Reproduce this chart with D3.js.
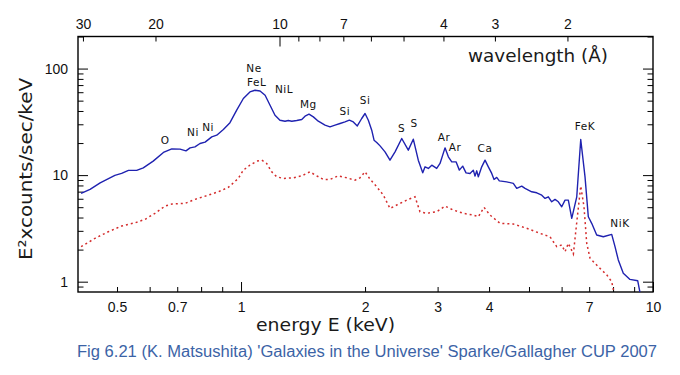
<!DOCTYPE html>
<html><head><meta charset="utf-8">
<script src="https://cdn.jsdelivr.net/npm/d3@7"></script>
<style>body{margin:0;background:#fff}svg{display:block}</style>
</head><body><svg id="c" width="680" height="375"></svg>
<script>
// ---- data (energy keV, E^2 x counts/sec/keV) ----
const blueE = [0.409,0.430,0.455,0.494,0.513,0.533,0.558,0.579,0.612,0.648,0.679,0.711,0.735,0.752,0.773,0.795,0.818,0.849,0.873,0.906,0.940,0.976,1.013,1.051,1.081,1.112,1.144,1.176,1.209,1.243,1.279,1.302,1.328,1.365,1.404,1.430,1.462,1.498,1.540,1.599,1.644,1.691,1.739,1.788,1.832,1.873,1.915,1.963,2.000,2.037,2.076,2.103,2.135,2.175,2.236,2.299,2.365,2.455,2.547,2.619,2.693,2.761,2.797,2.849,2.904,2.985,3.041,3.127,3.186,3.247,3.326,3.388,3.452,3.517,3.596,3.663,3.698,3.734,3.767,3.839,3.911,3.984,4.060,4.113,4.175,4.236,4.415,4.581,4.669,4.801,4.891,5.077,5.221,5.370,5.470,5.571,5.677,5.783,5.891,6.004,6.116,6.230,6.350,6.530,6.677,6.839,6.966,7.099,7.300,7.575,7.939,8.087,8.237,8.470,8.793,9.182,9.299];
const blueV = [6.74,7.35,8.47,9.94,10.37,11.07,11.07,11.71,13.53,16.32,17.64,17.53,16.89,18.03,18.42,19.82,20.39,22.86,23.71,26.81,31.05,40.67,52.35,60.36,62.6,61.66,56.2,45.3,36.5,32.77,32.07,32.56,32.07,32.56,33.27,35.73,37.3,35.2,32.07,29.42,28.36,29.42,30.52,31.59,32.77,31.59,28.97,34.0,37.87,32.77,26.41,21.28,20.26,18.82,16.54,13.82,16.54,22.08,17.15,21.75,13.82,10.51,11.96,11.56,12.41,11.56,12.88,18.03,14.84,13.32,13.32,11.14,12.14,10.51,10.37,11.14,9.79,10.97,9.64,11.96,13.82,11.96,10.37,9.11,9.52,8.84,8.65,8.36,7.51,7.89,7.51,6.98,6.83,6.49,6.05,6.26,5.62,5.92,5.62,5.05,5.83,5.83,3.93,6.26,21.61,9.64,4.07,3.53,2.74,2.64,2.78,2.13,1.60,1.20,1.05,1.02,0.79];
const redE = [0.409,0.442,0.476,0.513,0.553,0.585,0.618,0.654,0.679,0.731,0.773,0.833,0.881,0.931,0.985,1.013,1.051,1.092,1.123,1.154,1.187,1.221,1.266,1.339,1.404,1.470,1.526,1.584,1.644,1.723,1.805,1.891,1.944,2.000,2.056,2.135,2.215,2.299,2.387,2.477,2.547,2.644,2.719,2.823,2.985,3.127,3.276,3.464,3.663,3.767,3.890,4.021,4.253,4.581,4.937,5.318,5.623,5.839,6.004,6.116,6.230,6.408,6.552,6.677,6.800,6.904,7.033,7.366,7.720,7.939,8.040];
const redV = [2.13,2.55,2.94,3.33,3.57,3.85,4.38,5.12,5.35,5.43,5.92,6.49,6.98,7.67,9.31,11.14,12.41,13.53,13.82,12.88,10.74,9.64,9.31,9.43,9.85,10.74,9.85,9.11,9.11,9.85,9.43,8.98,9.43,10.74,9.17,7.77,6.49,4.87,5.24,5.62,5.92,6.26,4.53,4.38,4.53,5.12,4.70,4.38,4.22,4.07,4.98,4.22,3.53,3.47,3.17,2.84,2.64,2.13,2.21,1.91,2.29,1.82,4.07,7.89,5.05,2.29,1.66,1.38,1.16,1.00,0.79];

const energyLabels = [0.5,0.7,1,2,3,4,7,10];
const energyMinor = [0.5,0.6,0.7,0.8,0.9,2,3,4,5,6,7,8,9];
const energyMajor = [1,10];
const waveLabels = [30,20,10,7,4,3,2];
const waveMinor = [30,20,9,8,7,6,5,4,3,2];
const waveMajor = [10];
const yLabels = [1,10,100];
const yMinor = [0.9,2,3,4,5,6,7,8,9,20,30,40,50,60,70,80,90,200];
const yMajor = [1,10,100];

const lineNames = ["O","Ni","Ni","Ne","FeL","NiL","Mg","Si","Si","S","S","Ar","Ar","Ca","FeK","NiK"];
const lineNameE = [0.654,0.765,0.832,1.075,1.092,1.272,1.457,1.788,2.0,2.455,2.630,3.11,3.307,3.911,6.839,8.316];
const lineNameV = [19.5,23.2,26.0,92.9,68.7,59.6,42.2,36.5,47.0,25.3,28.0,20.96,16.9,16.54,26.4,3.28];

// ---- layout ----
const L = 78, R = 653, T = 36.5, B = 292;
const hc = 12.3984;
const svg = d3.select("#c");
const x = d3.scaleLog().domain([0.402, 10]).range([L, R]);
const w = d3.scaleLog().domain([hc/0.402, hc/10]).range([L, R]);
const y = d3.scaleLog().domain([0.8, 200]).range([B, T]);

svg.append("defs").append("clipPath").attr("id","clip")
  .append("rect").attr("x",L).attr("y",T).attr("width",R-L).attr("height",B-T);

const tickFont = "'Liberation Sans', Arial, sans-serif";
function styleAxis(g){ g.select(".domain").remove(); g.selectAll("line").attr("stroke","#000").attr("stroke-width",1); g.selectAll("text").attr("font-family",tickFont).attr("font-size",14).attr("fill","#111"); }

// bottom
svg.append("g").attr("transform",`translate(0,${B})`).call(d3.axisBottom(x).tickValues(energyMinor).tickSize(-5).tickFormat("")).call(styleAxis);
svg.append("g").attr("transform",`translate(0,${B})`).call(d3.axisBottom(x).tickValues(energyMajor).tickSize(-10).tickFormat("")).call(styleAxis);
svg.append("g").attr("transform",`translate(0,${B})`).call(d3.axisBottom(x).tickValues(energyLabels).tickSize(0).tickPadding(10.5).tickFormat(d=>String(d))).call(styleAxis);
// top
svg.append("g").attr("transform",`translate(0,${T})`).call(d3.axisTop(w).tickValues(waveMinor).tickSize(-5).tickFormat("")).call(styleAxis);
svg.append("g").attr("transform",`translate(0,${T})`).call(d3.axisTop(w).tickValues(waveMajor).tickSize(-10).tickFormat("")).call(styleAxis);
svg.append("g").attr("transform",`translate(0,${T})`).call(d3.axisTop(w).tickValues(waveLabels).tickSize(0).tickPadding(7.5).tickFormat(d=>String(d))).call(styleAxis);
// left
svg.append("g").attr("transform",`translate(${L},0)`).call(d3.axisLeft(y).tickValues(yMinor).tickSize(-5.5).tickFormat("")).call(styleAxis);
svg.append("g").attr("transform",`translate(${L},0)`).call(d3.axisLeft(y).tickValues(yMajor).tickSize(-10).tickFormat("")).call(styleAxis);
svg.append("g").attr("transform",`translate(${L},0)`).call(d3.axisLeft(y).tickValues(yLabels).tickSize(0).tickPadding(10).tickFormat(d=>String(d))).call(styleAxis);
// right
svg.append("g").attr("transform",`translate(${R},0)`).call(d3.axisRight(y).tickValues(yMinor).tickSize(-5.5).tickFormat("")).call(styleAxis);
svg.append("g").attr("transform",`translate(${R},0)`).call(d3.axisRight(y).tickValues(yMajor).tickSize(-10).tickFormat("")).call(styleAxis);

// frame
svg.append("rect").attr("x",L).attr("y",T).attr("width",R-L).attr("height",B-T)
  .attr("fill","none").attr("stroke","#000").attr("stroke-width",1.4);

// lines
const line = d3.line().x(d=>x(d[0])).y(d=>y(d[1]));
const blue = blueE.map((e,i)=>[e,blueV[i]]);
const red = redE.map((e,i)=>[e,redV[i]]);
const plot = svg.append("g").attr("clip-path","url(#clip)");
plot.append("path").datum(red).attr("d",line).attr("fill","none")
  .attr("stroke","#d42c2c").attr("stroke-width",1.5).attr("stroke-dasharray","2,3");
plot.append("path").datum(blue).attr("d",line).attr("fill","none")
  .attr("stroke","#1f22b0").attr("stroke-width",1.4).attr("stroke-linejoin","round");

// line labels
svg.append("g").selectAll("text").data(lineNames).join("text")
  .attr("x",(d,i)=>x(lineNameE[i])).attr("y",(d,i)=>y(lineNameV[i]))
  .attr("text-anchor","middle").attr("font-family","'DejaVu Sans', sans-serif")
  .attr("font-size",10.5).attr("letter-spacing",0.6).attr("fill","#111").text(d=>d);

// axis titles
const titleFont = "'DejaVu Sans', sans-serif";
svg.append("text").attr("x",468).attr("y",61.5).attr("font-family",titleFont).attr("font-size",18)
  .attr("textLength",140).attr("lengthAdjust","spacingAndGlyphs").attr("fill","#1a1a1a").text("wavelength (Å)");
svg.append("text").attr("x",256).attr("y",331).attr("font-family",titleFont).attr("font-size",18)
  .attr("textLength",139).attr("lengthAdjust","spacingAndGlyphs").attr("fill","#1a1a1a").text("energy E (keV)");
svg.append("text").attr("transform","translate(32,169) rotate(-90)").attr("text-anchor","middle")
  .attr("font-family",titleFont).attr("font-size",18)
  .attr("textLength",182).attr("lengthAdjust","spacingAndGlyphs").attr("fill","#1a1a1a").text("E²xcounts/sec/keV");

// caption
svg.append("text").attr("x",77).attr("y",356.5).attr("font-family","'Liberation Sans', Arial, sans-serif")
  .attr("font-size",16).attr("textLength",580).attr("lengthAdjust","spacingAndGlyphs").attr("fill","#3b63a6")
  .text("Fig 6.21 (K. Matsushita) 'Galaxies in the Universe' Sparke/Gallagher CUP 2007");
</script></body></html>
